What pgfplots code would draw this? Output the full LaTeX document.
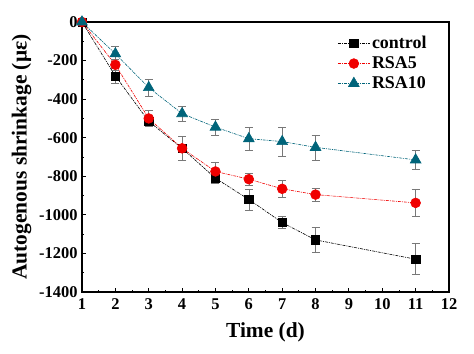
\documentclass[border=0pt]{standalone}
\usepackage{pgfplots}
\pgfplotsset{compat=1.18}
\usepackage{fontspec}
\setmainfont{Liberation Serif}
\definecolor{tealc}{RGB}{0,100,122}
\definecolor{redc}{RGB}{240,0,0}
\definecolor{errc}{RGB}{120,120,120}
\begin{document}
\begin{tikzpicture}
\useasboundingbox (-82bp,-62bp) rectangle (392bp,292bp);
\begin{axis}[
  at={(0,0)}, anchor=south west,
  scale only axis, width=367bp, height=270bp,
  xmin=1, xmax=12, ymin=-1400, ymax=0,
  xtick={1,...,12}, ytick={-1400,-1200,...,0},
  minor x tick num=1, minor y tick num=1,
  tick align=inside,
  xtick pos=bottom, ytick pos=left,
  major tick length=4bp, minor tick length=2.5bp,
  axis line style={line width=1.1pt},
  every tick/.style={line width=0.9pt, black},
  /pgf/number format/assume math mode=true,
  /pgf/number format/1000 sep={},
  tick label style={font=\bfseries\fontsize{16.5}{17}\selectfont},
  xticklabel style={yshift=-3bp},
  yticklabel style={xshift=-1bp},
  xlabel={\bfseries Time (d)},
  ylabel={\bfseries Autogenous shrinkage (με)},
  label style={font=\bfseries\fontsize{21.5}{24}\selectfont},
  xlabel style={yshift=-6bp},
  ylabel style={yshift=1bp},
  legend style={draw=none, fill=none, at={(0.688,0.962)}, anchor=north west,
    font=\bfseries\fontsize{18}{18}\selectfont, row sep=2.5bp},
  legend cell align=left,
  legend image code/.code={
    \draw[mark repeat=2,mark phase=2] plot coordinates {(0cm,0cm) (0.56cm,0cm) (1.12cm,0cm)};
  },
  error bars/error bar style={errc, line width=0.6pt, solid},
  error bars/error mark options={rotate=90, mark size=4bp, errc, line width=0.6pt},
]
\addplot[black, line width=0.6pt, dash pattern=on 3pt off 1pt on 1pt off 1pt,
  mark=square*, mark size=4.2bp, mark options={solid, black},
  error bars/.cd, y dir=both, y explicit]
  table[x=x, y=y, y error=e] {
x y e
1 0 0
2 -280 40
3 -515 25
4 -655 60
5 -810 28
6 -920 55
7 -1040 32
8 -1130 65
11 -1230 80
};
\addlegendentry{control}
\addplot[redc, line width=0.6pt, dash pattern=on 3pt off 1pt on 1pt off 1pt,
  mark=*, mark size=4.9bp, mark options={solid, redc},
  error bars/.cd, y dir=both, y explicit]
  table[x=x, y=y, y error=e] {
x y e
1 0 0
2 -222 28
3 -500 42
4 -655 60
5 -775 50
6 -815 30
7 -865 45
8 -895 35
11 -938 70
};
\addlegendentry{RSA5}
\addplot[tealc, line width=0.6pt, dash pattern=on 3pt off 1pt on 1pt off 1pt,
  mark=triangle*, mark size=6.2bp, mark options={solid, tealc},
  error bars/.cd, y dir=both, y explicit]
  table[x=x, y=y, y error=e] {
x y e
1 0 0
2 -165 40
3 -340 45
4 -475 40
5 -545 42
6 -605 60
7 -620 75
8 -650 65
11 -715 50
};
\addlegendentry{RSA10}
\end{axis}
\end{tikzpicture}
\end{document}
